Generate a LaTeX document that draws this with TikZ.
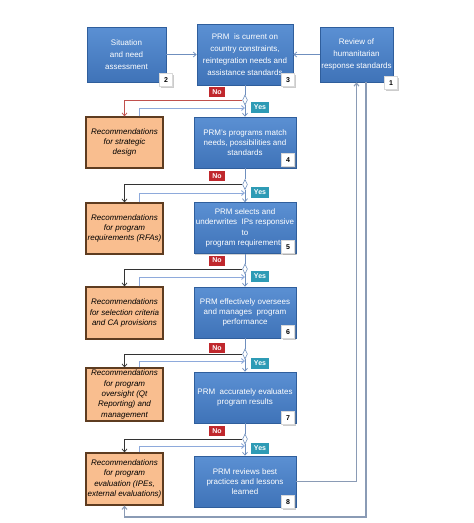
\documentclass[tikz,border=0pt]{standalone}
\usepackage{fontspec}
\setmainfont{Liberation Sans}
\usetikzlibrary{arrows.meta,shadows,shapes.geometric}
\definecolor{bluetop}{HTML}{5B90D3}
\definecolor{bluebot}{HTML}{3F73B8}
\definecolor{blueborder}{HTML}{2F5E9C}
\definecolor{orangefill}{HTML}{F9BE8F}
\definecolor{orangeborder}{HTML}{5E3C20}
\definecolor{nored}{HTML}{C0282D}
\definecolor{yesteal}{HTML}{2E9BB5}
\definecolor{connblue}{HTML}{6F8FBE}
\definecolor{fbblue}{HTML}{8EAADB}
\definecolor{branchred}{HTML}{C0504D}
\definecolor{branchdark}{HTML}{333333}
\definecolor{longgray}{HTML}{8A9BB5}
\begin{document}
\begin{tikzpicture}[x=1pt,y=-1pt,
  bluebox/.style={draw=blueborder, line width=0.6pt, top color=bluetop, bottom color=bluebot,
    text=white, align=center, inner sep=0pt, font=\fontsize{8}{10.3}\selectfont,
    drop shadow={shadow xshift=1.2pt,shadow yshift=-1.2pt,opacity=0.35}},
  orangebox/.style={draw=orangeborder, line width=1.2pt, fill=orangefill, align=center,
    inner sep=0pt, font=\fontsize{8}{10.3}\selectfont\itshape,
    minimum width=77pt},
  badge/.style={draw=gray!30, fill=white, minimum width=13pt, minimum height=13pt,
    inner sep=0pt, font=\fontsize{7}{8}\selectfont\bfseries,
    drop shadow={shadow xshift=1.2pt,shadow yshift=-1.2pt,opacity=0.4}},
  nolab/.style={fill=nored, text=white, font=\fontsize{7}{8}\selectfont\bfseries,
    minimum width=16pt, minimum height=10pt, inner sep=0pt},
  yeslab/.style={fill=yesteal, text=white, font=\fontsize{7}{8}\selectfont\bfseries,
    minimum width=18pt, minimum height=11pt, inner sep=0pt},
  dia/.style={diamond, draw=connblue, fill=white, line width=0.6pt,
    minimum width=5pt, minimum height=10pt, inner sep=0pt},
  conn/.style={draw=connblue, line width=0.7pt, -{Straight Barb[length=3pt,width=5pt]}},
  connplain/.style={draw=connblue, line width=0.7pt},
  branchA/.style={draw=branchred, line width=0.7pt, -{Straight Barb[length=3pt,width=5pt]}},
  branchB/.style={draw=branchdark, line width=0.7pt, -{Straight Barb[length=3pt,width=5pt]}},
  fb/.style={draw=fbblue, line width=0.9pt, -{Straight Barb[length=3pt,width=5pt]}},
  longline/.style={draw=longgray, line width=1.1pt}
]
\useasboundingbox[fill=white] (0,0) rectangle (474,523);

% top row
\node[bluebox, minimum width=79pt, minimum height=55pt, font=\fontsize{8}{12}\selectfont]
  (b2) at (126.5,54.5) {Situation\\and need\\assessment};
\node[bluebox, minimum width=96pt, minimum height=61pt, font=\fontsize{8}{11.8}\selectfont]
  (b3) at (245,54.5) {PRM\ \ is current on\\country constraints,\\reintegration needs and\\assistance standards};
\node[bluebox, minimum width=73pt, minimum height=55pt, font=\fontsize{8}{12}\selectfont]
  (b1) at (356.5,54.5) {Review of\\humanitarian\\response standards};

% main column boxes
\node[bluebox, minimum width=102pt, minimum height=51pt] (b4) at (245,142.5)
  {PRM's programs match\\needs, possibilities and\\standards};
\node[bluebox, minimum width=102pt, minimum height=51pt] (b5) at (245,228)
  {PRM selects and\\underwrites\ \ IPs responsive\\to\\program requirements};
\node[bluebox, minimum width=102pt, minimum height=51pt] (b6) at (245,312.5)
  {PRM effectively oversees\\and manages\ \ program\\performance};
\node[bluebox, minimum width=102pt, minimum height=51pt] (b7) at (245,397.5)
  {PRM\ \ accurately evaluates\\program results};
\node[bluebox, minimum width=102pt, minimum height=51pt] (b8) at (245,481.5)
  {PRM reviews best\\practices and lessons\\learned};

% orange boxes
\node[orangebox, minimum height=51pt] (o1) at (124.5,142.5)
  {Recommendations\\for strategic\\design};
\node[orangebox, minimum height=51pt] (o2) at (124.5,228.5)
  {Recommendations\\for program\\requirements (RFAs)};
\node[orangebox, minimum height=52pt] (o3) at (124.5,313)
  {Recommendations\\for selection criteria\\and CA provisions};
\node[orangebox, minimum height=53pt] (o4) at (124.5,394.5)
  {Recommendations\\for program\\oversight (Qt\\Reporting) and\\management};
\node[orangebox, minimum height=52pt] (o5) at (124.5,479)
  {Recommendations\\for program\\evaluation (IPEs,\\external evaluations)};

% badges
\node[badge] (n2) at (166,80) {2};
\node[badge] (n3) at (288,80) {3};
\node[badge] (n1) at (391,83) {1};
\node[badge] (n4) at (288,160) {4};
\node[badge] (n5) at (288,247) {5};
\node[badge] (n6) at (288,332) {6};
\node[badge] (n7) at (288,418) {7};
\node[badge] (n8) at (288,502) {8};

% top connectors
\draw[conn] (b2.east) -- (b3.west);
\draw[conn] (b1.west) -- (b3.east);

% decision diamonds
\node[dia] (d3) at (245,100) {};
\node[dia] (d4) at (245,184.5) {};
\node[dia] (d5) at (245,269) {};
\node[dia] (d6) at (245,354) {};
\node[dia] (d7) at (245,439) {};

% merge points on main line
\coordinate (m3) at (245,108);
\coordinate (m4) at (245,193);
\coordinate (m5) at (245,277);
\coordinate (m6) at (245,361);
\coordinate (m7) at (245,446);

% main line
\draw[connplain] (b3.south) -- (d3.north);
\draw[conn] (d3.south) -- (b4.north);
\draw[connplain] (b4.south) -- (d4.north);
\draw[conn] (d4.south) -- (b5.north);
\draw[connplain] (b5.south) -- (d5.north);
\draw[conn] (d5.south) -- (b6.north);
\draw[connplain] (b6.south) -- (d6.north);
\draw[conn] (d6.south) -- (b7.north);
\draw[connplain] (b7.south) -- (d7.north);
\draw[conn] (d7.south) -- (b8.north);

% "No" branches
\draw[branchA] (d3.west) -| (o1.north);
\draw[branchB] (d4.west) -| (o2.north);
\draw[branchB] (d5.west) -| (o3.north);
\draw[branchB] (d6.west) -| (o4.north);
\draw[branchB] (d7.west) -| (o5.north);

% feedback to main line
\draw[fb] ([xshift=14.5pt]o1.north) |- (m3);
\draw[fb] ([xshift=14.5pt]o2.north) |- (m4);
\draw[fb] ([xshift=14.5pt]o3.north) |- (m5);
\draw[fb] ([xshift=14.5pt]o4.north) |- (m6);
\draw[fb] ([xshift=14.5pt]o5.north) |- (m7);

% labels
\node[nolab] (no3) at (217,92) {No};
\node[nolab] (no4) at (217,176) {No};
\node[nolab] (no5) at (217,260.5) {No};
\node[nolab] (no6) at (217,348) {No};
\node[nolab] (no7) at (217,431) {No};
\node[yeslab] (y3) at (260,107) {Yes};
\node[yeslab] (y4) at (260,192) {Yes};
\node[yeslab] (y5) at (260,276) {Yes};
\node[yeslab] (y6) at (260,363) {Yes};
\node[yeslab] (y7) at (260,448) {Yes};

% long loops on the right
\coordinate (c1) at (366,517);
\draw[longline, -{Straight Barb[length=3pt,width=5pt]}] (b8.east) -| (b1.south);
\draw[longline, -{Straight Barb[length=3pt,width=5pt]}] ([xshift=9.5pt]b1.south) |- (c1) -| (o5.south);
\end{tikzpicture}
\end{document}
